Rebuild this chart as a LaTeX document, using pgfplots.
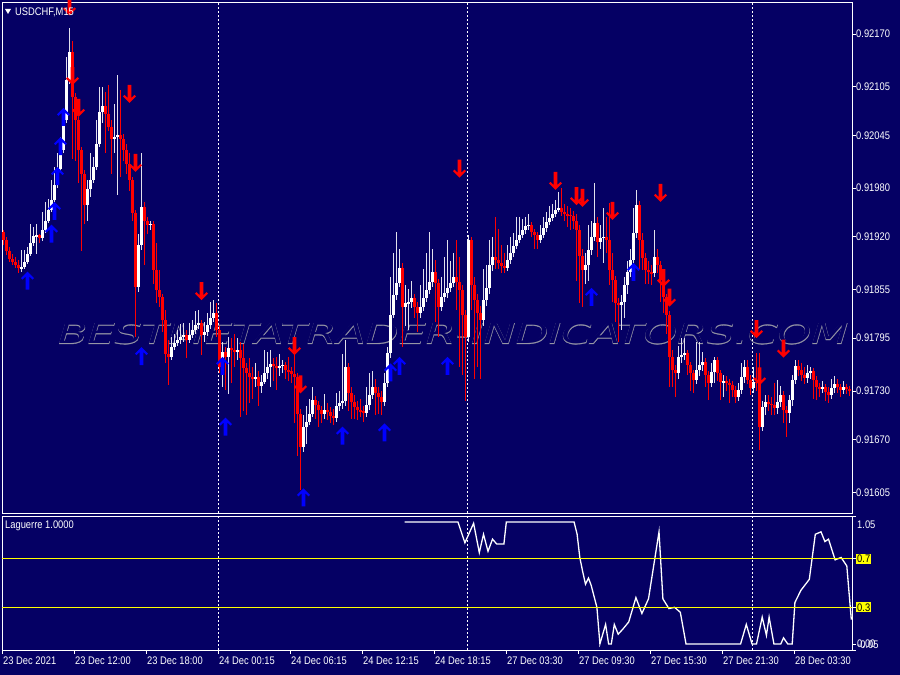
\documentclass[border=0pt]{standalone}
\usepackage{graphicx}
\usepackage{pgfplots}
\pgfplotsset{compat=1.18}
\usepackage{pgfplotstable}
\usepackage{fontspec}
\setmainfont{Liberation Sans}[FakeStretch=0.85]
\newfontfamily\wmbold{DejaVu Sans}[FakeBold=1.2]
\newfontfamily\wmplain{DejaVu Sans}
\newcommand\mtfont{\fontsize{11}{13}\selectfont}
\definecolor{mtbg}{RGB}{5,0,100}
\definecolor{mtred}{RGB}{255,0,0}
\definecolor{mtblue}{RGB}{0,0,255}
\definecolor{mtyel}{RGB}{255,255,0}
\definecolor{wmgray}{RGB}{150,150,165}

\pgfdeclareplotmark{uparr}{%
 \pgfpathmoveto{\pgfqpoint{0pt}{0pt}}%
 \pgfpathlineto{\pgfqpoint{6.5pt}{-6.5pt}}%
 \pgfpathlineto{\pgfqpoint{5pt}{-8pt}}%
 \pgfpathlineto{\pgfqpoint{1.8pt}{-4.8pt}}%
 \pgfpathlineto{\pgfqpoint{1.8pt}{-18pt}}%
 \pgfpathlineto{\pgfqpoint{-1.8pt}{-18pt}}%
 \pgfpathlineto{\pgfqpoint{-1.8pt}{-4.8pt}}%
 \pgfpathlineto{\pgfqpoint{-5pt}{-8pt}}%
 \pgfpathlineto{\pgfqpoint{-6.5pt}{-6.5pt}}%
 \pgfpathclose\pgfusepathqfill}
\pgfdeclareplotmark{dnarr}{%
 \pgfpathmoveto{\pgfqpoint{0pt}{0pt}}%
 \pgfpathlineto{\pgfqpoint{6.5pt}{6.5pt}}%
 \pgfpathlineto{\pgfqpoint{5pt}{8pt}}%
 \pgfpathlineto{\pgfqpoint{1.8pt}{4.8pt}}%
 \pgfpathlineto{\pgfqpoint{1.8pt}{18pt}}%
 \pgfpathlineto{\pgfqpoint{-1.8pt}{18pt}}%
 \pgfpathlineto{\pgfqpoint{-1.8pt}{4.8pt}}%
 \pgfpathlineto{\pgfqpoint{-5pt}{8pt}}%
 \pgfpathlineto{\pgfqpoint{-6.5pt}{6.5pt}}%
 \pgfpathclose\pgfusepathqfill}

\pgfplotsset{
  candle/.style={only marks, mark=none, mark size=0pt,
    mark options={draw opacity=0, fill opacity=0},
    error bars/.cd, y dir=both, y explicit, error mark=-,
    error mark options={draw opacity=0, fill opacity=0},
    error bar style={line width=#1}},
}

% USDCHF M15 candles: bar index, open, high, low, close
\pgfplotstableread{
i o h l c
-1 0.91926 0.91926 0.91926 0.91926
0 0.91926 0.91928 0.91910 0.91916
1 0.91916 0.91920 0.91897 0.91903
2 0.91903 0.91908 0.91889 0.91893
3 0.91893 0.91899 0.91885 0.91889
4 0.91889 0.91895 0.91881 0.91885
5 0.91885 0.91891 0.91875 0.91881
6 0.91881 0.91904 0.91877 0.91883
7 0.91883 0.91904 0.91880 0.91889
8 0.91889 0.91908 0.91886 0.91899
9 0.91899 0.91936 0.91896 0.91912
10 0.91912 0.91932 0.91909 0.91921
11 0.91921 0.91936 0.91899 0.91922
12 0.91922 0.91924 0.91912 0.91918
13 0.91918 0.91951 0.91915 0.91928
14 0.91928 0.91963 0.91925 0.91940
15 0.91940 0.91967 0.91937 0.91953
16 0.91953 0.91990 0.91950 0.91965
17 0.91965 0.92006 0.91962 0.91984
18 0.91984 0.92023 0.91980 0.92004
19 0.92004 0.92043 0.92000 0.92027
20 0.92027 0.92072 0.92023 0.92064
21 0.92064 0.92142 0.92060 0.92113
22 0.92113 0.92177 0.92108 0.92148
23 0.92148 0.92162 0.92016 0.92092
24 0.92092 0.92097 0.92014 0.92064
25 0.92064 0.92068 0.91986 0.92027
26 0.92027 0.92031 0.91903 0.91998
27 0.91998 0.92002 0.91936 0.91959
28 0.91959 0.91990 0.91940 0.91979
29 0.91979 0.92023 0.91969 0.91990
30 0.91990 0.92019 0.91986 0.92006
31 0.92006 0.92064 0.92002 0.92035
32 0.92035 0.92105 0.92031 0.92074
33 0.92074 0.92105 0.92060 0.92081
34 0.92081 0.92099 0.92023 0.92072
35 0.92072 0.92107 0.92051 0.92055
36 0.92055 0.92064 0.91998 0.92041
37 0.92041 0.92084 0.92023 0.92043
38 0.92043 0.92119 0.91971 0.92045
39 0.92045 0.92101 0.91994 0.92041
40 0.92041 0.92047 0.92014 0.92027
41 0.92027 0.92035 0.91998 0.92010
42 0.92010 0.92023 0.91977 0.91990
43 0.91990 0.91994 0.91940 0.91949
44 0.91949 0.91953 0.91797 0.91858
45 0.91858 0.91924 0.91852 0.91910
46 0.91910 0.92023 0.91904 0.91957
47 0.91957 0.91963 0.91885 0.91940
48 0.91940 0.91945 0.91924 0.91935
49 0.91935 0.91940 0.91928 0.91936
50 0.91936 0.91940 0.91862 0.91879
51 0.91879 0.91912 0.91838 0.91854
52 0.91854 0.91879 0.91834 0.91846
53 0.91846 0.91850 0.91803 0.91817
54 0.91817 0.91830 0.91764 0.91776
55 0.91776 0.91793 0.91737 0.91772
56 0.91772 0.91797 0.91768 0.91784
57 0.91784 0.91800 0.91780 0.91789
58 0.91789 0.91805 0.91785 0.91793
59 0.91793 0.91812 0.91788 0.91796
60 0.91796 0.91814 0.91790 0.91799
61 0.91799 0.91805 0.91770 0.91793
62 0.91793 0.91814 0.91789 0.91799
63 0.91799 0.91817 0.91795 0.91805
64 0.91805 0.91828 0.91800 0.91811
65 0.91811 0.91830 0.91806 0.91814
66 0.91814 0.91818 0.91774 0.91799
67 0.91799 0.91815 0.91790 0.91803
68 0.91803 0.91826 0.91798 0.91811
69 0.91811 0.91840 0.91806 0.91820
70 0.91820 0.91842 0.91815 0.91826
71 0.91826 0.91838 0.91797 0.91805
72 0.91805 0.91810 0.91752 0.91760
73 0.91760 0.91790 0.91735 0.91778
74 0.91778 0.91784 0.91731 0.91772
75 0.91772 0.91797 0.91726 0.91783
76 0.91783 0.91795 0.91740 0.91780
77 0.91780 0.91800 0.91760 0.91778
78 0.91778 0.91795 0.91768 0.91780
79 0.91780 0.91790 0.91698 0.91770
80 0.91770 0.91788 0.91705 0.91758
81 0.91758 0.91765 0.91700 0.91752
82 0.91752 0.91770 0.91715 0.91747
83 0.91747 0.91760 0.91720 0.91746
84 0.91746 0.91765 0.91735 0.91747
85 0.91747 0.91755 0.91712 0.91736
86 0.91736 0.91750 0.91728 0.91741
87 0.91741 0.91781 0.91738 0.91752
88 0.91752 0.91778 0.91745 0.91759
89 0.91759 0.91781 0.91735 0.91763
90 0.91763 0.91770 0.91742 0.91761
91 0.91761 0.91772 0.91731 0.91759
92 0.91759 0.91775 0.91748 0.91761
93 0.91761 0.91768 0.91752 0.91762
94 0.91762 0.91766 0.91745 0.91756
95 0.91756 0.91772 0.91742 0.91754
96 0.91754 0.91760 0.91740 0.91751
97 0.91751 0.91785 0.91690 0.91747
98 0.91747 0.91752 0.91650 0.91702
99 0.91702 0.91708 0.91608 0.91661
100 0.91661 0.91700 0.91655 0.91686
101 0.91686 0.91712 0.91665 0.91692
102 0.91692 0.91720 0.91688 0.91702
103 0.91702 0.91735 0.91698 0.91719
104 0.91719 0.91724 0.91695 0.91713
105 0.91713 0.91718 0.91686 0.91706
106 0.91706 0.91712 0.91690 0.91702
107 0.91702 0.91726 0.91696 0.91707
108 0.91707 0.91715 0.91694 0.91704
109 0.91704 0.91710 0.91690 0.91699
110 0.91699 0.91708 0.91688 0.91697
111 0.91697 0.91728 0.91692 0.91711
112 0.91711 0.91730 0.91705 0.91715
113 0.91715 0.91775 0.91708 0.91717
114 0.91717 0.91793 0.91712 0.91760
115 0.91760 0.91765 0.91705 0.91728
116 0.91728 0.91735 0.91695 0.91716
117 0.91716 0.91725 0.91695 0.91710
118 0.91710 0.91718 0.91694 0.91706
119 0.91706 0.91720 0.91698 0.91705
120 0.91705 0.91712 0.91692 0.91703
121 0.91703 0.91735 0.91698 0.91713
122 0.91713 0.91752 0.91706 0.91725
123 0.91725 0.91755 0.91720 0.91735
124 0.91735 0.91745 0.91700 0.91728
125 0.91728 0.91735 0.91702 0.91723
126 0.91723 0.91730 0.91700 0.91716
127 0.91716 0.91752 0.91712 0.91740
128 0.91740 0.91784 0.91735 0.91777
129 0.91777 0.91870 0.91770 0.91824
130 0.91824 0.91900 0.91820 0.91848
131 0.91848 0.91926 0.91842 0.91863
132 0.91863 0.91905 0.91858 0.91882
133 0.91882 0.91888 0.91784 0.91833
134 0.91833 0.91860 0.91810 0.91838
135 0.91838 0.91856 0.91805 0.91840
136 0.91840 0.91865 0.91832 0.91845
137 0.91845 0.91850 0.91820 0.91833
138 0.91833 0.91840 0.91803 0.91826
139 0.91826 0.91860 0.91820 0.91833
140 0.91833 0.91880 0.91828 0.91845
141 0.91845 0.91900 0.91840 0.91854
142 0.91854 0.91926 0.91850 0.91864
143 0.91864 0.91905 0.91858 0.91877
144 0.91877 0.91891 0.91815 0.91863
145 0.91863 0.91868 0.91797 0.91833
146 0.91833 0.91870 0.91828 0.91846
147 0.91846 0.91895 0.91840 0.91851
148 0.91851 0.91916 0.91845 0.91857
149 0.91857 0.91890 0.91852 0.91863
150 0.91863 0.91900 0.91858 0.91870
151 0.91870 0.91916 0.91830 0.91864
152 0.91864 0.91895 0.91760 0.91854
153 0.91854 0.91860 0.91750 0.91824
154 0.91824 0.91830 0.91718 0.91797
155 0.91797 0.91922 0.91790 0.91916
156 0.91916 0.91920 0.91830 0.91861
157 0.91861 0.91870 0.91745 0.91842
158 0.91842 0.91850 0.91760 0.91826
159 0.91826 0.91835 0.91745 0.91817
160 0.91817 0.91880 0.91810 0.91842
161 0.91842 0.91885 0.91835 0.91857
162 0.91857 0.91916 0.91850 0.91885
163 0.91885 0.91920 0.91878 0.91895
164 0.91895 0.91945 0.91880 0.91891
165 0.91891 0.91930 0.91880 0.91888
166 0.91888 0.91910 0.91876 0.91884
167 0.91884 0.91900 0.91875 0.91882
168 0.91882 0.91910 0.91878 0.91891
169 0.91891 0.91920 0.91886 0.91900
170 0.91900 0.91925 0.91895 0.91909
171 0.91909 0.91945 0.91905 0.91916
172 0.91916 0.91945 0.91912 0.91922
173 0.91922 0.91942 0.91918 0.91928
174 0.91928 0.91945 0.91924 0.91933
175 0.91933 0.91948 0.91928 0.91935
176 0.91935 0.91938 0.91920 0.91926
177 0.91926 0.91930 0.91905 0.91922
178 0.91922 0.91926 0.91905 0.91916
179 0.91916 0.91935 0.91912 0.91922
180 0.91922 0.91945 0.91918 0.91931
181 0.91931 0.91950 0.91926 0.91938
182 0.91938 0.91958 0.91934 0.91943
183 0.91943 0.91960 0.91940 0.91948
184 0.91948 0.91966 0.91945 0.91953
185 0.91953 0.91975 0.91950 0.91956
186 0.91956 0.91980 0.91946 0.91951
187 0.91951 0.91960 0.91940 0.91948
188 0.91948 0.91958 0.91932 0.91947
189 0.91947 0.91956 0.91928 0.91946
190 0.91946 0.91952 0.91930 0.91940
191 0.91940 0.91948 0.91865 0.91928
192 0.91928 0.91935 0.91838 0.91896
193 0.91896 0.91905 0.91833 0.91879
194 0.91879 0.91900 0.91862 0.91885
195 0.91885 0.91935 0.91865 0.91904
196 0.91904 0.91940 0.91898 0.91920
197 0.91920 0.91986 0.91915 0.91937
198 0.91937 0.91945 0.91895 0.91914
199 0.91914 0.91935 0.91905 0.91919
200 0.91919 0.91956 0.91888 0.91920
201 0.91920 0.91945 0.91900 0.91916
202 0.91916 0.91962 0.91860 0.91879
203 0.91879 0.91900 0.91840 0.91867
204 0.91867 0.91872 0.91815 0.91838
205 0.91838 0.91845 0.91790 0.91836
206 0.91836 0.91848 0.91805 0.91840
207 0.91840 0.91870 0.91820 0.91861
208 0.91861 0.91890 0.91850 0.91877
209 0.91877 0.91905 0.91870 0.91891
210 0.91891 0.91955 0.91885 0.91925
211 0.91925 0.91978 0.91918 0.91959
212 0.91959 0.91964 0.91880 0.91916
213 0.91916 0.91925 0.91879 0.91894
214 0.91894 0.91900 0.91862 0.91879
215 0.91879 0.91890 0.91862 0.91877
216 0.91877 0.91885 0.91860 0.91875
217 0.91875 0.91928 0.91870 0.91895
218 0.91895 0.91905 0.91875 0.91885
219 0.91885 0.91890 0.91840 0.91867
220 0.91867 0.91872 0.91826 0.91846
221 0.91846 0.91850 0.91800 0.91824
222 0.91824 0.91828 0.91735 0.91772
223 0.91772 0.91780 0.91735 0.91756
224 0.91756 0.91762 0.91722 0.91752
225 0.91752 0.91785 0.91745 0.91772
226 0.91772 0.91795 0.91765 0.91774
227 0.91774 0.91795 0.91768 0.91777
228 0.91777 0.91780 0.91750 0.91762
229 0.91762 0.91766 0.91730 0.91752
230 0.91752 0.91756 0.91728 0.91743
231 0.91743 0.91790 0.91738 0.91756
232 0.91756 0.91790 0.91748 0.91762
233 0.91762 0.91778 0.91755 0.91766
234 0.91766 0.91770 0.91735 0.91750
235 0.91750 0.91755 0.91719 0.91740
236 0.91740 0.91765 0.91735 0.91753
237 0.91753 0.91772 0.91740 0.91768
238 0.91768 0.91772 0.91742 0.91752
239 0.91752 0.91756 0.91719 0.91741
240 0.91741 0.91750 0.91722 0.91742
241 0.91742 0.91748 0.91730 0.91740
242 0.91740 0.91745 0.91715 0.91737
243 0.91737 0.91742 0.91722 0.91731
244 0.91731 0.91736 0.91715 0.91723
245 0.91723 0.91740 0.91718 0.91731
246 0.91731 0.91765 0.91726 0.91747
247 0.91747 0.91768 0.91740 0.91759
248 0.91759 0.91768 0.91738 0.91743
249 0.91743 0.91750 0.91725 0.91734
250 0.91734 0.91760 0.91728 0.91741
251 0.91741 0.91777 0.91730 0.91740
252 0.91740 0.91777 0.91657 0.91685
253 0.91685 0.91718 0.91680 0.91710
254 0.91710 0.91725 0.91700 0.91716
255 0.91716 0.91725 0.91705 0.91714
256 0.91714 0.91722 0.91700 0.91713
257 0.91713 0.91740 0.91700 0.91709
258 0.91709 0.91743 0.91702 0.91716
259 0.91716 0.91736 0.91710 0.91725
260 0.91725 0.91730 0.91690 0.91706
261 0.91706 0.91712 0.91673 0.91703
262 0.91703 0.91725 0.91690 0.91719
263 0.91719 0.91750 0.91712 0.91743
264 0.91743 0.91768 0.91738 0.91761
265 0.91761 0.91768 0.91748 0.91756
266 0.91756 0.91765 0.91742 0.91750
267 0.91750 0.91760 0.91738 0.91746
268 0.91746 0.91762 0.91740 0.91752
269 0.91752 0.91760 0.91745 0.91755
270 0.91755 0.91758 0.91720 0.91743
271 0.91743 0.91748 0.91719 0.91735
272 0.91735 0.91740 0.91722 0.91732
273 0.91732 0.91742 0.91728 0.91735
274 0.91735 0.91738 0.91717 0.91729
275 0.91729 0.91735 0.91715 0.91725
276 0.91725 0.91745 0.91720 0.91734
277 0.91734 0.91748 0.91728 0.91739
278 0.91739 0.91745 0.91728 0.91735
279 0.91735 0.91738 0.91722 0.91731
280 0.91731 0.91742 0.91726 0.91735
281 0.91735 0.91738 0.91726 0.91732
282 0.91732 0.91736 0.91724 0.91730
}\candles

% signal arrows: bar index, price at arrow tip
\pgfplotstableread{
i p
8 0.91877
16 0.91935
17 0.91963
18 0.92006
19 0.92043
20 0.92079
46 0.91784
73 0.91772
74 0.91697
100 0.91610
113 0.91686
127 0.91690
129 0.91764
132 0.91772
148 0.91772
196 0.91857
210 0.91888
}\uparrows
\pgfplotstableread{
i p
22 0.92193
23 0.92107
25 0.92068
42 0.92085
44 0.92000
66 0.91842
97 0.91774
99 0.91727
152 0.91993
184 0.91978
191 0.91959
193 0.91957
203 0.91941
219 0.91963
220 0.91858
222 0.91834
251 0.91795
252 0.91737
260 0.91771
}\dnarrows

\begin{document}
\begin{tikzpicture}[x=1pt,y=1pt]
\useasboundingbox (0,0) rectangle (900,675);
\fill[mtbg] (0,0) rectangle (900,675);
% watermark (behind the candles)
\node[anchor=base west, inner sep=0pt, text=wmgray] at (58,331)
  {\resizebox{790pt}{21pt}{\wmbold\itshape BESTMETATRADER-INDICATORS.COM}};
\node[anchor=base west, inner sep=0pt, text=mtbg] at (58,331)
  {\resizebox{790pt}{21pt}{\wmplain\itshape BESTMETATRADER-INDICATORS.COM}};

% ---------------- main price panel (y in 1e-5 above 0.9) ----------------
\begin{axis}[
  at={(2pt,162pt)}, anchor=south west, scale only axis,
  width=850pt, height=511pt,
  xmin=-0.5, xmax=282.83, ymin=1579.5, ymax=2209.5,
  axis line style={white, line width=0.8pt},
  xtick=\empty,
  extra x ticks={71.5,154.5,249.5}, extra x tick labels={},
  extra x tick style={xmajorgrids=true, major tick length=0pt},
  major grid style={white, line width=0.7pt, dash pattern=on 2pt off 2pt},
  ytick={1605,1670,1730,1795,1855,1920,1980,2045,2105,2170},
  yticklabels={0.91605,0.91670,0.91730,0.91795,0.91855,0.91920,0.91980,0.92045,0.92105,0.92170},
  scaled y ticks=false,
  ytick pos=right, yticklabel pos=right, tick align=outside,
  major tick length=4pt, tick style={white, line width=0.8pt},
  yticklabel style={font=\mtfont, text=white, anchor=west, inner sep=0pt},
]
% wicks
\addplot[white!88!mtbg, candle=0.9pt, error bar style={draw=white!88!mtbg}]
  table[x expr={\thisrow{c}>=\thisrow{o} ? \thisrow{i} : -50},
        y expr={(\thisrow{h}+\thisrow{l}-1.8)*50000},
        y error expr={(\thisrow{h}-\thisrow{l})*50000}]{\candles};
\addplot[mtred, candle=0.9pt, error bar style={draw=mtred}]
  table[x expr={\thisrow{c}<\thisrow{o} ? \thisrow{i} : -50},
        y expr={(\thisrow{h}+\thisrow{l}-1.8)*50000},
        y error expr={(\thisrow{h}-\thisrow{l})*50000}]{\candles};
% bodies
\addplot[white, candle=2.8pt, error bar style={draw=white}]
  table[x expr={\thisrow{c}>=\thisrow{o} ? \thisrow{i} : -50},
        y expr={(\thisrow{o}+\thisrow{c}-1.8)*50000},
        y error expr={(\thisrow{c}-\thisrow{o})*50000}]{\candles};
\addplot[mtred, candle=2.8pt, error bar style={draw=mtred}]
  table[x expr={\thisrow{c}<\thisrow{o} ? \thisrow{i} : -50},
        y expr={(\thisrow{o}+\thisrow{c}-1.8)*50000},
        y error expr={(\thisrow{o}-\thisrow{c})*50000}]{\candles};
% signal arrows
\addplot[only marks, mark=uparr, mark options={fill=mtblue, draw=none}]
  table[x=i, y expr={(\thisrow{p}-0.9)*100000}]{\uparrows};
\addplot[only marks, mark=dnarr, mark options={fill=mtred, draw=none}]
  table[x=i, y expr={(\thisrow{p}-0.9)*100000}]{\dnarrows};
\end{axis}

% ---------------- Laguerre panel ----------------
\begin{axis}[
  at={(2pt,25pt)}, anchor=south west, scale only axis,
  width=850pt, height=134pt,
  xmin=-0.5, xmax=282.83, ymin=-0.05, ymax=1.05,
  axis line style={white, line width=0.8pt},
  xtick={-0.5,23.5,47.5,71.5,95.5,119.5,143.5,167.5,191.5,215.5,239.5,263.5},
  xticklabels={23 Dec 2021,23 Dec 12:00,23 Dec 18:00,24 Dec 00:15,24 Dec 06:15,24 Dec 12:15,24 Dec 18:15,27 Dec 03:30,27 Dec 09:30,27 Dec 15:30,27 Dec 21:30,28 Dec 03:30},
  xtick pos=bottom,
  xticklabel style={font=\mtfont, text=white, anchor=north west, inner sep=0pt, xshift=1pt, yshift=-3pt},
  extra x ticks={71.5,154.5,249.5}, extra x tick labels={},
  extra x tick style={xmajorgrids=true, major tick length=0pt},
  major grid style={white, line width=0.7pt, dash pattern=on 2pt off 2pt},
  ytick={0.3,0.7}, yticklabels={0.3,0.7},
  ytick pos=right, yticklabel pos=right, tick align=outside,
  major tick length=4pt, tick style={white, line width=0.8pt},
  yticklabel style={font=\mtfont, text=black, fill=mtyel, anchor=west, inner sep=1pt},
  extra y ticks={1.05,0,-0.05},
  extra y tick labels={\smash{\raisebox{-13pt}{1.05}},\smash{\raisebox{-4pt}{0.00}},\smash{\raisebox{1pt}{-0.05}}},
  extra y tick style={yticklabel style={fill=none, text=white}},
]
\addplot[white, line width=1.3pt] coordinates {
 (133.7,1) (151.5,1) (153.8,0.83) (156.7,0.99) (158.6,0.75) (160,0.9) (161.5,0.76)
 (163,0.86) (164.4,0.82) (166.8,0.82) (167.6,1) (190.2,1) (191.2,0.9) (192.1,0.71)
 (193,0.6) (194,0.49) (195,0.54) (195.9,0.48) (197.8,0.3) (198.8,0) (200.7,0.16)
 (201.7,0) (202.6,0) (203.6,0.16) (204.9,0.08) (206.4,0.12) (208.4,0.18) (210.8,0.38)
 (212.8,0.25) (215,0.37) (218.5,0.92) (219.8,0.37) (221.8,0.29) (223.7,0.3) (225.6,0.26)
 (227.5,0) (245.7,0) (247.6,0.16) (249.5,0) (251,0) (252.9,0.22) (254.3,0.07)
 (255.2,0.22) (256.8,0) (259.1,0) (260,0.05) (261.4,0) (262.9,0) (263.8,0.34)
 (265.8,0.44) (268.6,0.53) (270.6,0.9) (272.5,0.92) (273.8,0.84) (275,0.86)
 (277.2,0.69) (279.2,0.71) (281.1,0.64) (282.6,0.2)};
\addplot[draw=mtyel, line width=1.2pt] coordinates {(-0.5,0.7) (282.83,0.7)};
\addplot[draw=mtyel, line width=1.4pt] coordinates {(-0.5,0.3) (282.83,0.3)};
\end{axis}

% panel captions
\fill[white] (5,666) -- (11,666) -- (8,661) -- cycle;
\node[anchor=west, inner sep=0pt, text=white, font=\mtfont] at (15,663) {USDCHF,M15};
\node[anchor=west, inner sep=0pt, text=white, font=\mtfont] at (5,149) {Laguerre 1.0000};
\end{tikzpicture}
\end{document}
